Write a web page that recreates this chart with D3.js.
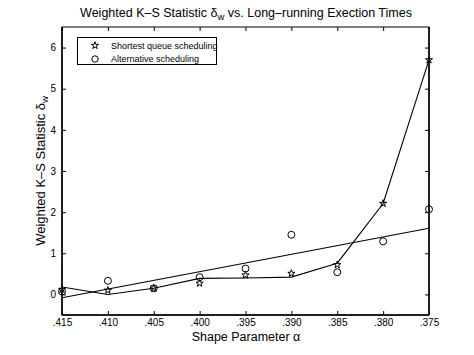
<!DOCTYPE html>
<html><head><meta charset="utf-8">
<script src="https://cdn.jsdelivr.net/npm/d3@7"></script>
<style>body{margin:0;background:#fff}svg{display:block}text{font-family:"Liberation Sans",Arial,Helvetica,sans-serif;fill:#000}</style>
</head><body><svg id="c" width="474" height="355"></svg>
<script>
const alphas = [0.415,0.410,0.405,0.400,0.395,0.390,0.385,0.380,0.375];
const starVals = [0.12,0.10,0.15,0.27,0.47,0.51,0.72,2.21,5.70];
const starLine = [0.18,0.00,0.15,0.39,0.40,0.42,0.76,2.21,5.70];
const circVals = [0.07,0.33,0.15,0.42,0.63,1.45,0.54,1.29,2.07];
const fitX = [0.415,0.375];
const fitY = [-0.08,1.61];
const xTicks = [0.415,0.410,0.405,0.400,0.395,0.390,0.385,0.380,0.375];
const xTickLabels = [".415",".410",".405",".400",".395",".390",".385",".380",".375"];
const yTicks = [0,1,2,3,4,5,6];
const legendLabels = ["Shortest queue scheduling","Alternative scheduling"];

const svg = d3.select("#c");
const L=62,R=429,T=27,B=315;
const x = d3.scaleLinear().domain([0.415,0.375]).range([L,R]);
const y = d3.scaleLinear().domain([-0.5,6.5]).range([B,T]);

svg.append("rect").attr("x",L).attr("y",T).attr("width",R-L).attr("height",B-T)
  .attr("fill","none").attr("stroke","#000").attr("stroke-width",1);
svg.append("line").attr("x1",L).attr("x2",L).attr("y1",T).attr("y2",B).attr("stroke","#000").attr("stroke-width",1.5);
svg.append("line").attr("x1",L).attr("x2",R).attr("y1",B).attr("y2",B).attr("stroke","#000").attr("stroke-width",1.5);
svg.append("line").attr("x1",R).attr("x2",R).attr("y1",T).attr("y2",B).attr("stroke","#000").attr("stroke-width",1.5);

const xa = svg.append("g").attr("transform",`translate(0,${B})`)
  .call(d3.axisBottom(x).tickValues(xTicks).tickFormat((d,i)=>xTickLabels[i]).tickSizeInner(-4).tickSizeOuter(0).tickPadding(4));
const xt = svg.append("g").attr("transform",`translate(0,${T})`)
  .call(d3.axisTop(x).tickValues(xTicks).tickFormat("").tickSizeInner(-4).tickSizeOuter(0));
const ya = svg.append("g").attr("transform",`translate(${L},0)`)
  .call(d3.axisLeft(y).tickValues(yTicks).tickFormat(d3.format("d")).tickSizeInner(-4).tickSizeOuter(0).tickPadding(6));
const yr = svg.append("g").attr("transform",`translate(${R},0)`)
  .call(d3.axisRight(y).tickValues(yTicks).tickFormat("").tickSizeInner(-4).tickSizeOuter(0));
[xa,xt,ya,yr].forEach(g=>{g.select(".domain").remove();g.selectAll("line").attr("stroke","#000");g.selectAll("text").attr("font-size",10).attr("font-family",null);});

const line = d3.line().x(d=>x(d[0])).y(d=>y(d[1]));
svg.append("path").attr("d",line(alphas.map((a,i)=>[a,starLine[i]]))).attr("fill","none").attr("stroke","#000").attr("stroke-width",1.1);
svg.append("path").attr("d",line(fitX.map((a,i)=>[a,fitY[i]]))).attr("fill","none").attr("stroke","#000").attr("stroke-width",1.1);

const star = d3.symbol().type(d3.symbolStar).size(16);
svg.append("g").selectAll("path").data(alphas).join("path")
  .attr("d",star).attr("transform",(d,i)=>`translate(${x(d)},${y(starVals[i])})`)
  .attr("fill","none").attr("stroke","#000").attr("stroke-width",1);
svg.append("g").selectAll("circle").data(alphas).join("circle")
  .attr("cx",d=>x(d)).attr("cy",(d,i)=>y(circVals[i])).attr("r",3.5)
  .attr("fill","none").attr("stroke","#000").attr("stroke-width",1);

const lg = svg.append("g");
lg.append("rect").attr("x",77.5).attr("y",37.5).attr("width",139).attr("height",27).attr("fill","#fff").attr("stroke","#000").attr("stroke-width",1);
lg.append("path").attr("d",star).attr("transform","translate(95,45.5)").attr("fill","none").attr("stroke","#000");
lg.append("circle").attr("cx",95).attr("cy",59).attr("r",3.2).attr("fill","none").attr("stroke","#000");
lg.selectAll("text").data(legendLabels).join("text").attr("x",111).attr("y",(d,i)=>48.5+i*13.5).attr("font-size",9).text(d=>d);

const t = svg.append("text").attr("x",246).attr("y",17).attr("text-anchor","middle").attr("font-size",12.5);
t.append("tspan").text("Weighted K\u2013S Statistic \u03B4");
t.append("tspan").attr("font-size",9.5).attr("dy",3).text("w");
t.append("tspan").attr("dy",-3).text(" vs. Long\u2013running Exection Times");

svg.append("text").attr("x",246).attr("y",341).attr("text-anchor","middle").attr("font-size",12.5).text("Shape Parameter \u03B1");
const yl = svg.append("text").attr("transform",`translate(45,${(T+B)/2}) rotate(-90)`).attr("text-anchor","middle").attr("font-size",13);
yl.append("tspan").text("Weighted K\u2013S Statistic \u03B4");
yl.append("tspan").attr("font-size",9.5).attr("dy",3).text("w");
</script></body></html>
